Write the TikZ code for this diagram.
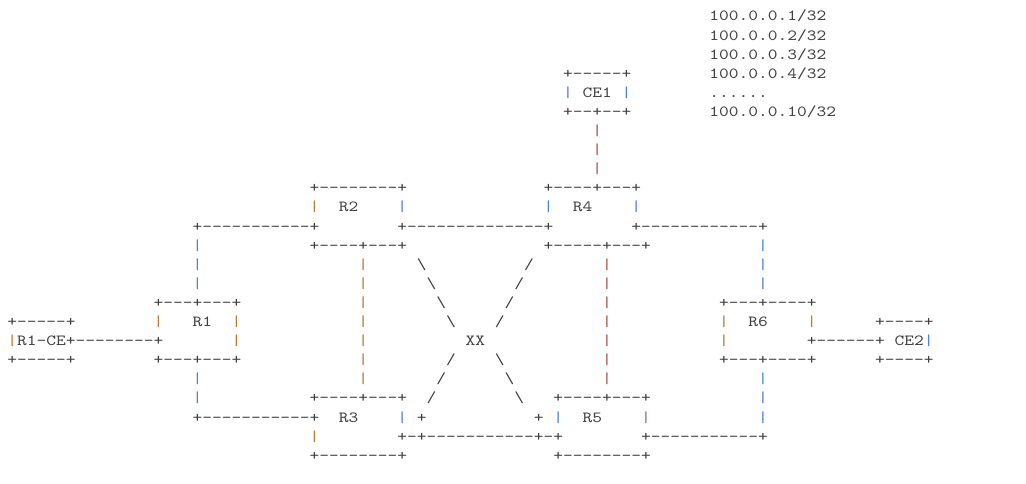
\documentclass[tikz,border=0pt]{standalone}
\usepackage{fontspec}
\newfontfamily\courfont{lmmono10-regular.otf}[FakeStretch=1.2]
\definecolor{tc}{HTML}{404040}
\definecolor{pb}{HTML}{4A82DC}
\definecolor{po}{HTML}{BC7A38}
\definecolor{pr}{HTML}{B05050}
\definecolor{pg}{HTML}{4E9A40}
\newcommand\pipB{\textcolor{pb}{|}}
\newcommand\pipO{\textcolor{po}{|}}
\newcommand\pipR{\textcolor{pr}{|}}
\newcommand\pipG{\textcolor{pg}{|}}
\newcommand\bs{\textbackslash}
\newcommand\at[3]{\node[txt] (n#1x#2) at ({7.425+9.75*#2},{21.0+19.1*#1}) {#3};}
\begin{document}
\begin{tikzpicture}[x=0.75pt,y=-0.75pt,
  txt/.style={font=\courfont\fontsize{11.6pt}{14pt}\selectfont,anchor=base west,inner sep=0pt,outer sep=0pt,text=tc}]
\fill[white] (0,0) rectangle (1026,484);
\useasboundingbox (0,0) rectangle (1026,484);
% address list
\at{0}{72}{100.0.0.1/32}
\at{1}{72}{100.0.0.2/32}
\at{2}{72}{100.0.0.3/32}
\at{3}{72}{100.0.0.4/32}
\at{4}{72}{......}
\at{5}{72}{100.0.0.10/32}
% CE1
\at{3}{57}{+-----+}
\at{4}{57}{\pipB}
\at{4}{59}{CE1}
\at{4}{63}{\pipB}
\at{5}{57}{+--+--+}
\at{6}{60}{\pipR}
\at{7}{60}{\pipR}
\at{8}{60}{\pipR}
% row 9-12: R2, R4
\at{9}{31}{+--------+}
\at{9}{55}{+----+---+}
\at{10}{31}{\pipO}
\at{10}{34}{R2}
\at{10}{40}{\pipB}
\at{10}{55}{\pipB}
\at{10}{58}{R4}
\at{10}{64}{\pipB}
\at{11}{19}{+-----------+}
\at{11}{40}{+--------------+}
\at{11}{64}{+------------+}
\at{12}{19}{\pipB}
\at{12}{31}{+----+---+}
\at{12}{55}{+-----+---+}
\at{12}{77}{\pipB}
% rows 13-14
\at{13}{19}{\pipB}
\at{13}{36}{\pipO}
\at{13}{42}{\bs}
\at{13}{53}{/}
\at{13}{61}{\pipR}
\at{13}{77}{\pipB}
\at{14}{19}{\pipB}
\at{14}{36}{\pipO}
\at{14}{43}{\bs}
\at{14}{52}{/}
\at{14}{61}{\pipR}
\at{14}{77}{\pipB}
% row 15
\at{15}{15}{+---+---+}
\at{15}{36}{\pipO}
\at{15}{44}{\bs}
\at{15}{51}{/}
\at{15}{61}{\pipR}
\at{15}{73}{+---+----+}
% row 16
\at{16}{0}{+-----+}
\at{16}{15}{\pipO}
\at{16}{19}{R1}
\at{16}{23}{\pipO}
\at{16}{36}{\pipO}
\at{16}{45}{\bs}
\at{16}{50}{/}
\at{16}{61}{\pipR}
\at{16}{73}{\pipO}
\at{16}{76}{R6}
\at{16}{82}{\pipO}
\at{16}{89}{+----+}
% row 17
\at{17}{0}{\pipO}
\at{17}{1}{R1-CE+--------+}
\at{17}{23}{\pipO}
\at{17}{36}{\pipO}
\at{17}{47}{XX}
\at{17}{61}{\pipR}
\at{17}{73}{\pipO}
\at{17}{82}{+------+}
\at{17}{91}{CE2}
\at{17}{94}{\pipB}
% row 18
\at{18}{0}{+-----+}
\at{18}{15}{+---+---+}
\at{18}{36}{\pipO}
\at{18}{45}{/}
\at{18}{50}{\bs}
\at{18}{61}{\pipR}
\at{18}{73}{+---+----+}
\at{18}{89}{+----+}
% row 19
\at{19}{19}{\pipB}
\at{19}{36}{\pipO}
\at{19}{44}{/}
\at{19}{51}{\bs}
\at{19}{61}{\pipR}
\at{19}{77}{\pipB}
% row 20
\at{20}{19}{\pipB}
\at{20}{31}{+----+---+}
\at{20}{43}{/}
\at{20}{52}{\bs}
\at{20}{56}{+----+---+}
\at{20}{77}{\pipB}
% row 21
\at{21}{19}{+-----------+}
\at{21}{34}{R3}
\at{21}{40}{\pipB}
\at{21}{42}{+}
\at{21}{54}{+}
\at{21}{56}{\pipB}
\at{21}{59}{R5}
\at{21}{65}{\pipG}
\at{21}{77}{\pipB}
% row 22
\at{22}{31}{\pipO}
\at{22}{40}{+-+-----------+-+}
\at{22}{65}{+-----------+}
% row 23
\at{23}{31}{+--------+}
\at{23}{56}{+--------+}
\end{tikzpicture}
\end{document}
